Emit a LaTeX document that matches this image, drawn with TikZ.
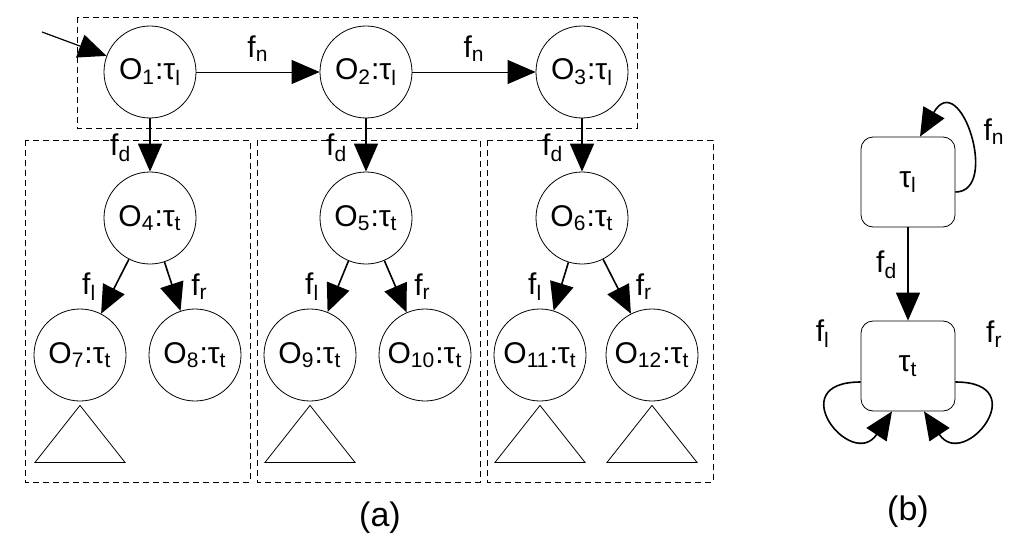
\documentclass[tikz,border=0pt]{standalone}
\usepackage{fontspec}
\setmainfont{Liberation Sans}
\usetikzlibrary{
    arrows.meta, % for the big filled arrow tips
    positioning % for placing nodes relative to other nodes
}
\newcommand{\sub}[1]{\textsubscript{#1}}

\begin{document}
\begin{tikzpicture}[
    x=0.5pt,y=-0.5pt,>={Triangle[length=14pt,width=12pt]},
    every node/.style  = {font=\fontsize{15}{17}\selectfont},
    obj/.style         = {circle,draw,minimum size=46pt,inner sep=0pt},
    type/.style        = {draw,rounded corners=6pt,minimum width=47pt,minimum height=45pt},
    part/.style        = {draw,densely dashed,thin},
    lab/.style         = {inner sep=1pt}
]
\useasboundingbox (0,0) rectangle (1026,556);

% heap objects (left)

    \draw [part] (77,17) rectangle (637,128);
    \draw [part] (25,140) rectangle (250,482);
    \draw [part] (257,140) rectangle (480,482);
    \draw [part] (487,140) rectangle (713,482);

    \node [obj] (o1)  at (150,72)  {O\sub{1}:τ\sub{l}};
    \node [obj] (o2)  at (366,72)  {O\sub{2}:τ\sub{l}};
    \node [obj] (o3)  at (582,72)  {O\sub{3}:τ\sub{l}};
    \node [obj] (o4)  at (150,218) {O\sub{4}:τ\sub{t}};
    \node [obj] (o5)  at (366,218) {O\sub{5}:τ\sub{t}};
    \node [obj] (o6)  at (582,218) {O\sub{6}:τ\sub{t}};
    \node [obj] (o7)  at (80,355)  {O\sub{7}:τ\sub{t}};
    \node [obj] (o8)  at (195,355) {O\sub{8}:τ\sub{t}};
    \node [obj] (o9)  at (310,355) {O\sub{9}:τ\sub{t}};
    \node [obj] (o10) at (425,355) {O\sub{10}:τ\sub{t}};
    \node [obj] (o11) at (540,355) {O\sub{11}:τ\sub{t}};
    \node [obj] (o12) at (652,355) {O\sub{12}:τ\sub{t}};

    \coordinate (in) at (42,32);
    \draw [->,semithick] (in) -- (o1);
    \draw [->] (o1) -- node [lab,above=4pt] {f\sub{n}} (o2);
    \draw [->] (o2) -- node [lab,above=4pt] {f\sub{n}} (o3);
    \draw [->,thick] (o1) -- node [lab,pos=0.55,left=8pt] {f\sub{d}} (o4);
    \draw [->,thick] (o2) -- node [lab,pos=0.55,left=8pt] {f\sub{d}} (o5);
    \draw [->,thick] (o3) -- node [lab,pos=0.55,left=8pt] {f\sub{d}} (o6);
    \draw [->,thick] (o4) -- node [lab,left=8pt] {f\sub{l}} (o7);
    \draw [->,thick] (o4) -- node [lab,right=8pt] {f\sub{r}} (o8);
    \draw [->,thick] (o5) -- node [lab,left=8pt] {f\sub{l}} (o9);
    \draw [->,thick] (o5) -- node [lab,right=8pt] {f\sub{r}} (o10);
    \draw [->,thick] (o6) -- node [lab,left=8pt] {f\sub{l}} (o11);
    \draw [->,thick] (o6) -- node [lab,right=8pt] {f\sub{r}} (o12);

    \foreach \o in {o7,o9,o11,o12}
        \draw ([yshift=-2pt]\o.south) -- +(-45,57) -- +(45,57) -- cycle;

    \node (a) at (380,518) {\fontsize{17}{20}\selectfont (a)};

% type graph (right)

    \node [type] (tl) at (908,182) {τ\sub{l}};
    \node [type] (tt) at (908,366) {τ\sub{t}};

    \draw [->,thick] (tl) -- node [lab,left=4pt,pos=0.4] {f\sub{d}} (tt);
    \draw [->,thick] ([yshift=-5pt]tl.east) .. controls +(45,0) and +(40,-70) .. ([xshift=6pt]tl.north)
        node [lab,pos=0.2,above right=16pt and 4pt] {f\sub{n}};
    \draw [->,thick] ([yshift=-8pt]tt.west) .. controls +(-80,0) and +(-40,60) .. ([xshift=-8pt]tt.south)
        node [lab,at start,above left=16pt and 14pt] {f\sub{l}};
    \draw [->,thick] ([yshift=-8pt]tt.east) .. controls +(80,0) and +(40,60) .. ([xshift=8pt]tt.south)
        node [lab,at start,above right=16pt and 14pt] {f\sub{r}};

    \node (b) at (908,512) {\fontsize{17}{20}\selectfont (b)};

\end{tikzpicture}
\end{document}
